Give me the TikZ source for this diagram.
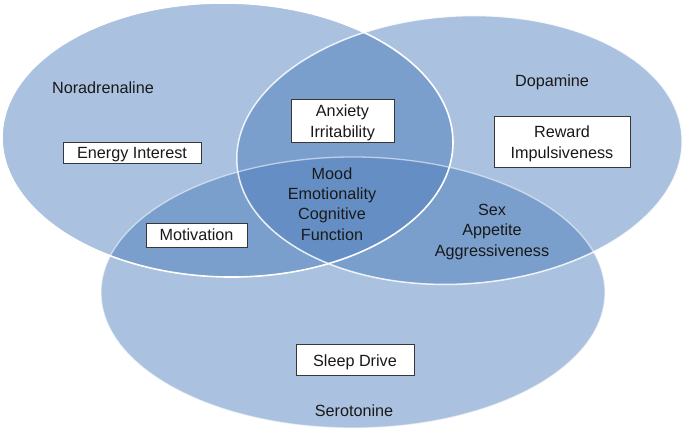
\documentclass[tikz,border=0pt]{standalone}
\usepackage{fontspec}
\setmainfont{Liberation Sans}
\definecolor{lightc}{RGB}{170,193,223}
\definecolor{midc}{RGB}{122,159,204}
\definecolor{darkc}{RGB}{101,143,196}
\definecolor{textc}{RGB}{25,25,25}
\definecolor{boxc}{RGB}{55,55,55}
\newcommand{\lowered}[2]{\raisebox{-#1}[\height][\depth]{\begin{tabular}{@{}c@{}}#2\end{tabular}}}
\begin{document}
\begin{tikzpicture}[x=1pt,y=-1pt,
  font=\fontsize{16.2}{20.2}\selectfont,
  lbl/.style={text=textc, align=center, inner sep=0pt},
  tbox/.style={draw=boxc, fill=white, line width=0.9pt, text=textc, align=center, inner sep=0pt}]
\useasboundingbox (0,0) rectangle (685,435);
\def\pN{(227.5,140) ellipse [x radius=225.5pt, y radius=137pt, rotate=-1]}
\def\pD{(459.5,150) ellipse [x radius=223pt, y radius=134pt, rotate=3.5]}
\def\pS{(353,292.5) ellipse [x radius=252pt, y radius=135.5pt]}
% base fills
\fill[lightc] \pN;
\fill[lightc] \pD;
\fill[lightc] \pS;
% pairwise overlaps
\begin{scope}
  \clip \pN;
  \fill[midc] \pD;
  \fill[midc] \pS;
\end{scope}
\begin{scope}
  \clip \pD;
  \fill[midc] \pS;
\end{scope}
% triple overlap
\begin{scope}
  \clip \pN;
  \clip \pD;
  \fill[darkc] \pS;
\end{scope}
% outlines
\draw[white, opacity=0.55, line width=1.3pt] \pS;
\draw[white, opacity=0.85, line width=1.5pt] \pD;
\draw[white, line width=1.6pt] \pN;
% labels
\node[lbl] (nor) at (103,88) {Noradrenaline};
\node[lbl] (dop) at (552,82) {Dopamine};
\node[lbl] (ser) at (354,411) {Serotonine};
\node[lbl] (mood) at (332,204) {Mood\\Emotionality\\Cognitive\\Function};
\node[lbl] (sex) at (492,232) {Sex\\Appetite\\Aggressiveness};
% boxes
\node[tbox, minimum width=138pt, minimum height=21pt] (energy) at (132,152.5) {\lowered{1.5pt}{Energy Interest}};
\node[tbox, minimum width=101pt, minimum height=24pt] (motiv) at (196.5,235) {\lowered{1pt}{Motivation}};
\node[tbox, minimum width=103pt, minimum height=43pt] (anx) at (342.5,120.5) {\lowered{2.5pt}{Anxiety\\Irritability}};
\node[tbox, minimum width=136pt, minimum height=51pt] (rew) at (562,141.5) {\lowered{2.5pt}{Reward\\Impulsiveness}};
\node[tbox, minimum width=118pt, minimum height=31pt] (sleep) at (355,360) {\lowered{2pt}{Sleep Drive}};
\end{tikzpicture}
\end{document}
